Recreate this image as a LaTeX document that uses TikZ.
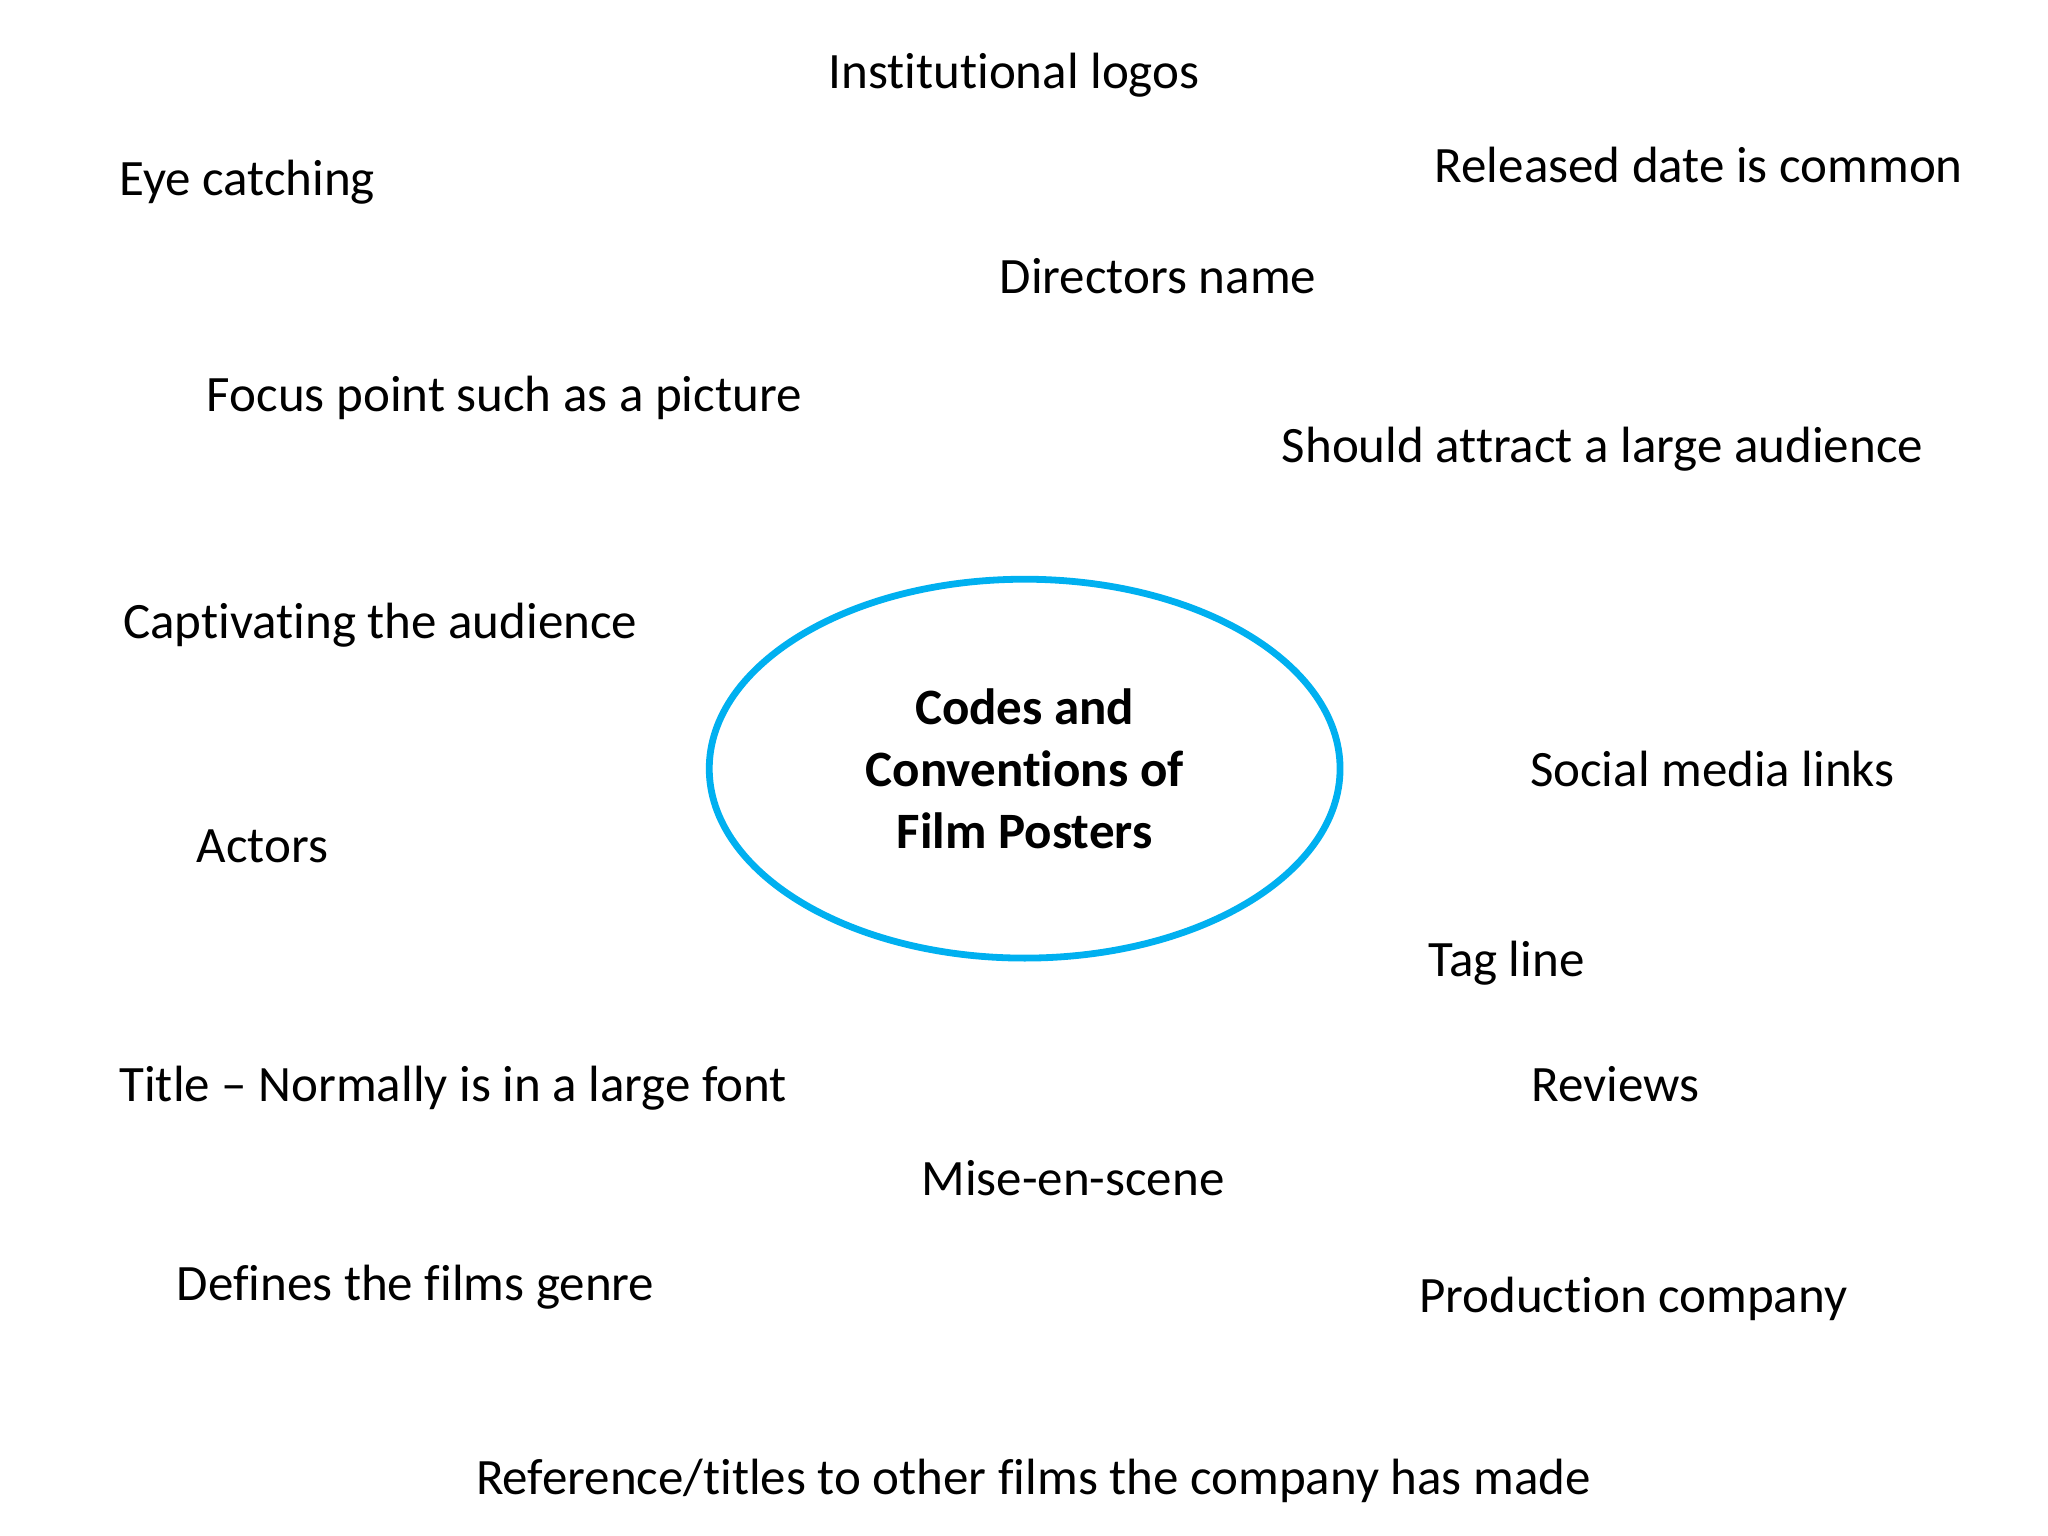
\documentclass[tikz,border=0pt]{standalone}
\usepackage{fontspec}
\setmainfont{Carlito}[Ligatures={TeX,NoCommon}]
\usetikzlibrary{shapes.geometric}
\definecolor{hubblue}{HTML}{00B0F0}
\begin{document}
\begin{tikzpicture}[x=0.46091pt,y=-0.46091pt,
  lbl/.style={anchor=base west, inner sep=0pt, font=\fontsize{18}{21.97}\selectfont},
  hubstyle/.style={ellipse, draw=hubblue, line width=2.4pt, inner sep=0pt,
    minimum width=222.6pt, minimum height=133.7pt, align=center,
    font=\fontsize{18}{21.97}\selectfont\bfseries}]
\fill[white] (0,0) rectangle (1568,1176);
\useasboundingbox (0,0) rectangle (1568,1176);
\node[hubstyle] (hub) at (784.5,588.5) {Codes and\\Conventions of\\Film Posters};
\node[lbl] (logos) at (634,68) {Institutional logos};
\node[lbl] (eye) at (91,150) {Eye catching};
\node[lbl] (released) at (1098,140) {Released date is common};
\node[lbl] (directors) at (765,225) {Directors name};
\node[lbl] (focus) at (158,315) {Focus point such as a picture};
\node[lbl] (attract) at (981,354) {Should attract a large audience};
\node[lbl] (captivating) at (94,489) {Captivating the audience};
\node[lbl] (social) at (1171,602) {Social media links};
\node[lbl] (actors) at (150,660) {Actors};
\node[lbl] (tagline) at (1093,748) {Tag line};
\node[lbl] (title) at (91,843) {Title – Normally is in a large font};
\node[lbl] (reviews) at (1172,843) {Reviews};
\node[lbl] (mise) at (705,915) {Mise-en-scene};
\node[lbl] (genre) at (135,996) {Defines the films genre};
\node[lbl] (production) at (1086,1005) {Production company};
\node[lbl] (reference) at (364,1144) {Reference/titles to other films the company has made};
\end{tikzpicture}
\end{document}
